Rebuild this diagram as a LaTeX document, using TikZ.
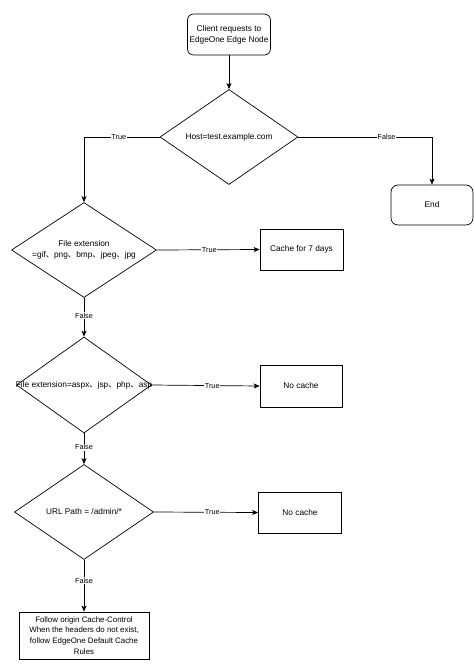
\documentclass[tikz,border=0pt]{standalone}
\usepackage{fontspec}
\setmainfont{Liberation Sans}
\newfontfamily\cjk{Noto Sans CJK SC}
\usetikzlibrary{shapes.geometric,arrows.meta}
\newcommand{\dun}{{\cjk 、}}
\begin{document}
\begin{tikzpicture}[x=1pt,y=-1pt,
 every node/.style={font=\fontsize{8.3}{10.7}\selectfont},
 box/.style={draw=black, line width=0.7pt, minimum width=83pt, minimum height=41pt, align=center, inner sep=2pt},
 rbox/.style={box, rounded corners=6pt},
 dia/.style={draw, diamond, line width=0.7pt, inner sep=0pt},
 lbl/.style={fill=white, inner sep=0.8pt, font=\fontsize{7.3}{8}\selectfont},
 arr/.style={-{Stealth[length=6pt,width=5pt,inset=1.5pt]}, line width=0.7pt}]
\useasboundingbox (0,0) rectangle (474,665);
% nodes
\node[rbox, minimum width=82pt] (start) at (229,34.5) {Client requests to\\EdgeOne Edge Node};
\node[dia, minimum width=138pt, minimum height=95pt] (d1) at (229,137) {};
\node (t1) at (d1) {Host=test.example.com};
\node[rbox, minimum width=82pt, minimum height=40pt, rounded corners=7pt] (end) at (432,205) {End};
\node[dia, minimum width=145pt, minimum height=95pt] (d2) at (84,250) {};
\node[align=center] (t2) at (d2) {File extension\\=gif\dun png\dun bmp\dun jpeg\dun jpg};
\node[box] (c7) at (301.5,249.5) {Cache for 7 days};
\node[dia, minimum width=135pt, minimum height=96pt] (d3) at (84,385) {};
\node (t3) at (d3) {File extension=aspx\dun jsp\dun php\dun asp};
\node[box, minimum width=82pt, minimum height=42pt] (nc1) at (301,386) {No cache};
\node[dia, minimum width=139pt, minimum height=95pt] (d4) at (84,512) {};
\node (t4) at (d4) {URL Path = /admin/*};
\node[box, minimum width=83pt, minimum height=41pt] (nc2) at (300,512.5) {No cache};
\node[box, minimum width=130pt, minimum height=47pt, font=\fontsize{7.9}{10.7}\selectfont] (fin) at (84,635.5) {Follow origin Cache-Control\\When the headers do not exist,\\follow EdgeOne Default Cache\\Rules};
% connectors
\draw[arr] (start) -- (d1);
\draw[arr] (d1.west) -| node[lbl, pos=0.27]{True} (d2.north);
\draw[arr] (d1.east) -| node[lbl, pos=0.33]{False} (end.north);
\draw[arr] (d2.east) -- node[lbl, pos=0.51]{True} (c7.west);
\draw[arr] (d2.south) -- node[lbl, pos=0.46]{False} (d3.north);
\draw[arr] (d3.east) -- node[lbl, pos=0.56]{True} (nc1.west);
\draw[arr] (d3.south) -- node[lbl, pos=0.45]{False} (d4.north);
\draw[arr] (d4.east) -- node[lbl, pos=0.56]{True} (nc2.west);
\draw[arr] (d4.south) -- node[lbl, pos=0.4]{False} (fin.north);
\end{tikzpicture}
\end{document}
